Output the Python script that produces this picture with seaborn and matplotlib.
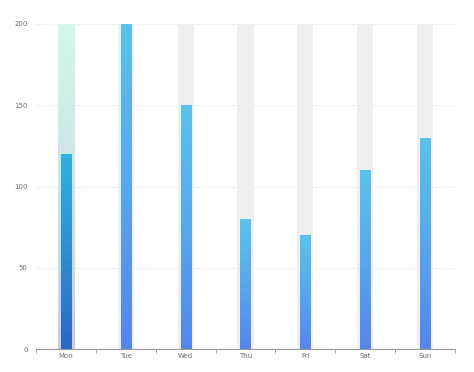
import numpy as np
import pandas as pd
import matplotlib
matplotlib.use("Agg")
import matplotlib.pyplot as plt
from matplotlib.colors import LinearSegmentedColormap
import seaborn as sns

days = ["Mon", "Tue", "Wed", "Thu", "Fri", "Sat", "Sun"]
values = [120, 200, 150, 80, 70, 110, 130]
y_max = 200
y_ticks = [0, 50, 100, 150, 200]

df = pd.DataFrame({"day": days, "value": values, "bg": [y_max] * len(days)})

sns.set_style("white")
plt.rcParams["font.family"] = ["DejaVu Sans"]

fig = plt.figure(figsize=(4.74, 3.72), dpi=100)
ax = fig.add_axes([36 / 474, 23 / 372, 419 / 474, 325 / 372])

# background bars, then value bars
sns.barplot(data=df, x="day", y="bg", color="#efefef", width=0.27, ax=ax,
            zorder=1, saturation=1, linewidth=0)
n_bg = len(ax.patches)
sns.barplot(data=df, x="day", y="value", color="#5ab4ea", width=0.17, ax=ax,
            zorder=2, saturation=1, linewidth=0)

normal = LinearSegmentedColormap.from_list("n", ["#5585ea", "#58a8ea", "#5bc2ea"])
hover = LinearSegmentedColormap.from_list("h", ["#2e66c8", "#2f8fd0", "#31b2dc"])
hover_bg = LinearSegmentedColormap.from_list("hb", ["#c6cfdc", "#cde3e4", "#d3f8ea"])

grad = np.linspace(0, 1, 256).reshape(-1, 1)

def fill_gradient(patch, cmap, z):
    x0, y0 = patch.get_x(), patch.get_y()
    w, h = patch.get_width(), patch.get_height()
    patch.set_facecolor("none")
    im = ax.imshow(grad, cmap=cmap, origin="lower", aspect="auto",
                   extent=[x0, x0 + w, y0, y0 + h], zorder=z)
    im.set_clip_path(patch)

# highlighted background on Mon
fill_gradient(ax.patches[0], hover_bg, 1.5)

for i, p in enumerate(ax.patches[n_bg:]):
    fill_gradient(p, hover if i == 0 else normal, 2.5)

ax.set_xlim(-0.5, len(days) - 0.5)
ax.set_ylim(0, y_max)
ax.set_yticks(y_ticks)
ax.set_xlabel("")
ax.set_ylabel("")

for y in y_ticks[1:]:
    ax.axhline(y, color="#f0f0f0", lw=0.8, zorder=0)

for s in ["top", "right", "left"]:
    ax.spines[s].set_visible(False)
ax.spines["bottom"].set_color("#999999")
ax.spines["bottom"].set_linewidth(0.8)

ax.set_xticks(np.arange(len(days)))
ax.set_xticklabels(days)
ax.set_xticks(np.arange(len(days) + 1) - 0.5, minor=True)
ax.tick_params(axis="x", which="major", bottom=True, length=0, pad=3,
               labelsize=5, labelcolor="#6e6e6e")
ax.tick_params(axis="x", which="minor", bottom=True, length=3, width=0.6,
               color="#999999", direction="out")
ax.tick_params(axis="y", length=0, pad=6, labelsize=5, labelcolor="#6e6e6e")

fig.savefig("out.png", dpi=100)
